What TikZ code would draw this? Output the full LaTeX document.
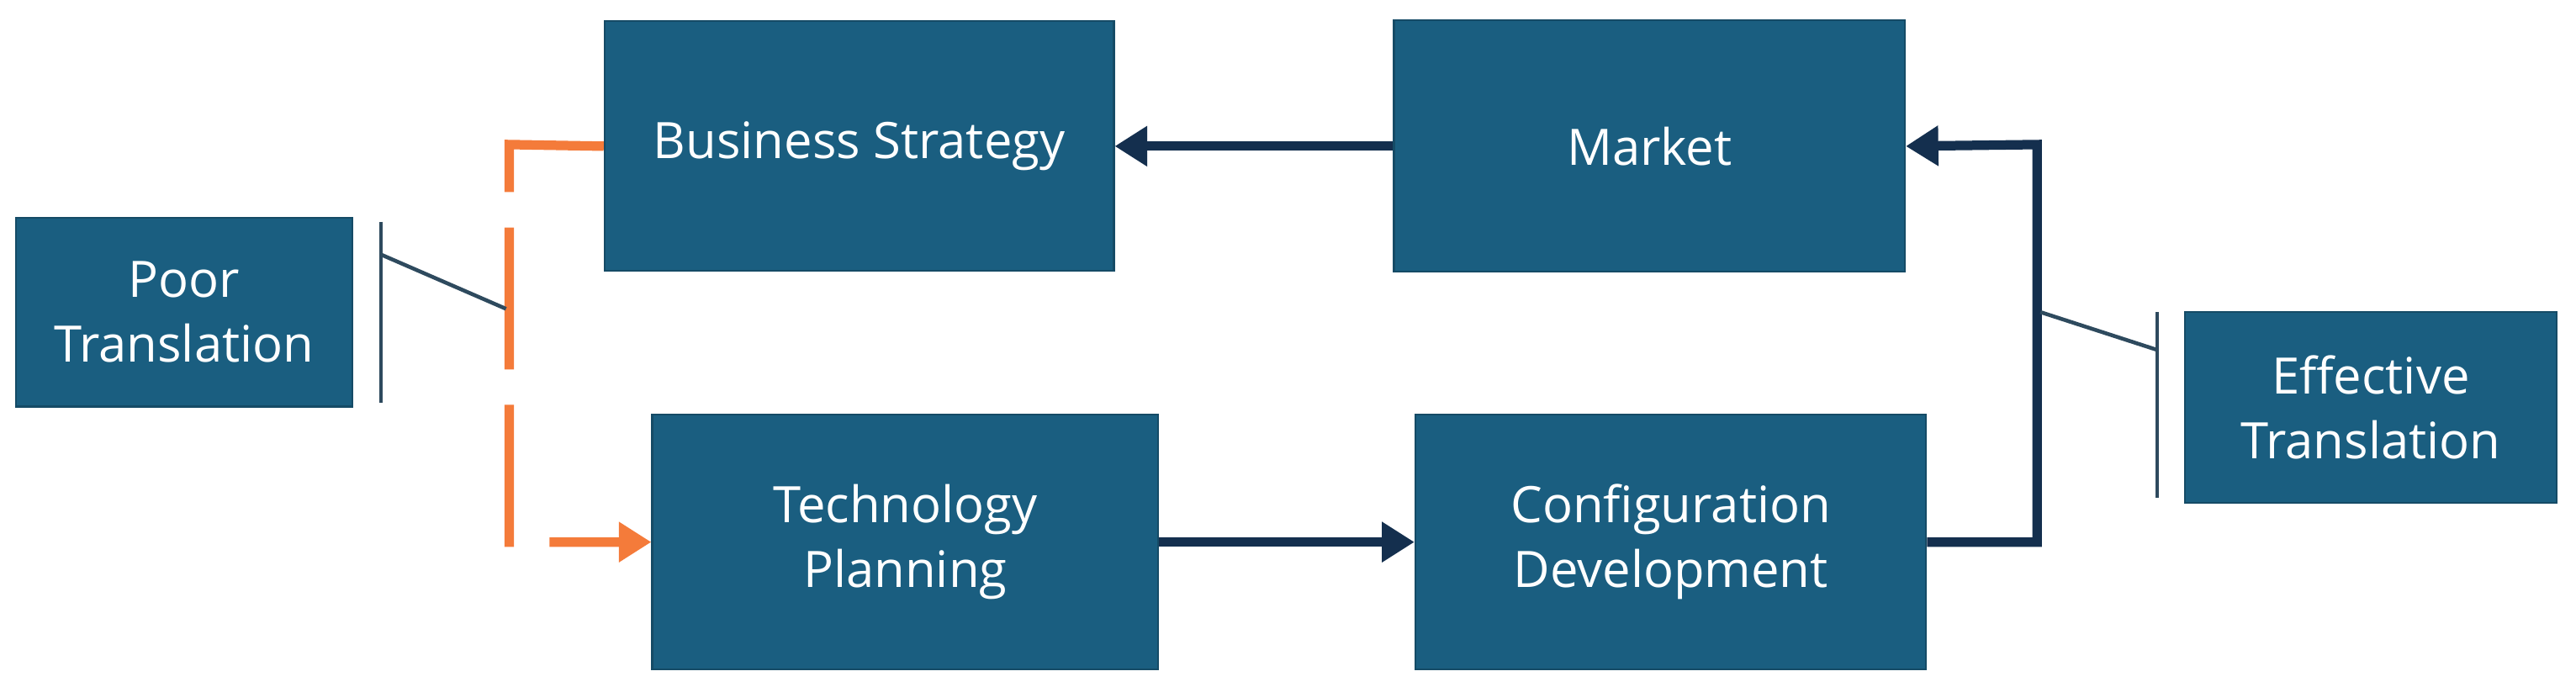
\documentclass[tikz,border=0pt]{standalone}
\usepackage{fontspec}
\setmainfont{Open Sans}
\usetikzlibrary{arrows.meta}
\definecolor{boxc}{HTML}{1A5E80}
\definecolor{navy}{HTML}{142F4E}
\definecolor{orng}{HTML}{F47B3A}
\definecolor{barc}{HTML}{2E4A5E}
\begin{document}
\begin{tikzpicture}[x=0.01953cm,y=-0.01953cm,
  blk/.style={fill=boxc,draw=boxc!80!black,line width=0.6pt,text=white,font=\fontsize{17}{22}\selectfont,align=center,inner sep=0pt},
  conn/.style={navy,line width=3.2pt,-{Triangle[length=11pt,width=13pt]}},
  bar/.style={barc,line width=1.3pt}]
\useasboundingbox (0,0) rectangle (1568,418);
\node[blk,minimum width=310*0.01953cm,minimum height=152*0.01953cm] (bs) at (523,89) {Business Strategy};
\node[blk,minimum width=311*0.01953cm,minimum height=153*0.01953cm] (mk) at (1004,89) {Market};
\node[blk,minimum width=205*0.01953cm,minimum height=115*0.01953cm] (pt) at (112,190) {Poor\\Translation};
\node[blk,minimum width=308*0.01953cm,minimum height=155*0.01953cm] (tp) at (551,330) {Technology\\Planning};
\node[blk,minimum width=311*0.01953cm,minimum height=155*0.01953cm] (cd) at (1017,330) {Configuration\\Development};
\node[blk,minimum width=226*0.01953cm,minimum height=116*0.01953cm] (et) at (1443,248) {Effective\\Translation};
\coordinate (ctop) at (1240,88);
\coordinate (cbot) at (1240,330);
\coordinate (otop) at (310,88);
\coordinate (obot) at (310,330);
\draw[conn] (mk.west) -- (bs.east);
\draw[conn] (tp.east) -- (cd.west);
\draw[conn,line join=miter] (cd.east) -- (cbot) -- (ctop) -- (mk.east);
\draw[orng,line width=3.2pt,dash pattern=on 48pt off 12pt,-{Triangle[length=11pt,width=13pt]}] (bs.west) -- (otop) -- (obot) -- (tp.west);
\coordinate (pb1) at (232,135); \coordinate (pb2) at (232,245);
\coordinate (pd1) at (232,155); \coordinate (pd2) at (308,188);
\draw[bar] (pb1) -- (pb2);
\draw[bar] (pd1) -- (pd2);
\coordinate (eb1) at (1313,190); \coordinate (eb2) at (1313,303);
\coordinate (ed1) at (1313,213); \coordinate (ed2) at (1242,190);
\draw[bar] (eb1) -- (eb2);
\draw[bar] (ed1) -- (ed2);
\end{tikzpicture}
\end{document}
